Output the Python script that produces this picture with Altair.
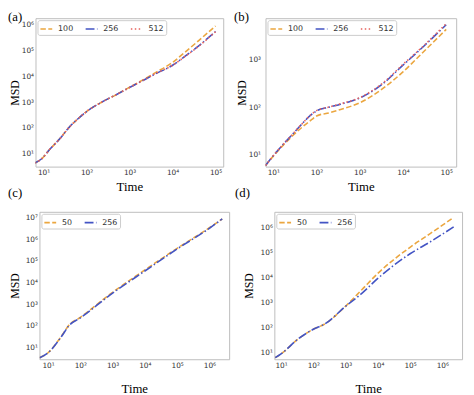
import altair as alt
import pandas as pd

# ---------------- data ----------------
# Panel (a)
a_time = [6.3, 8.9, 14, 25, 40, 71, 112, 224, 500, 1000, 2000, 4000, 10000, 20000, 40000, 100000]
a_msd_100 = [4.4, 6.3, 15, 42, 110, 270, 500, 1000, 2000, 3800, 7200, 14000, 35000, 90000, 240000, 900000]
a_msd_256 = [4.4, 6.3, 15, 42, 110, 270, 500, 1000, 2000, 3700, 6800, 12500, 27000, 62000, 150000, 550000]
a_msd_512 = [4.4, 6.3, 15, 42, 110, 270, 500, 1000, 2000, 3700, 6900, 12800, 27000, 61000, 145000, 540000]

# Panel (b)
b_time = [6.6, 10, 28, 50, 78, 100, 200, 360, 1000, 3500, 10000, 32000, 100000]
b_msd_100 = [5.9, 9.3, 25, 40, 55, 65, 76, 89, 123, 250, 550, 1550, 4300]
b_msd_256 = [5.9, 9.5, 27, 48, 71, 83, 100, 115, 155, 316, 760, 2000, 5400]
b_msd_512 = [5.9, 9.5, 27, 48, 72, 84, 101, 117, 158, 325, 790, 2050, 5700]

# Panel (c)
c_time = [5.5, 10, 27, 43, 100, 1000, 10000, 100000, 1000000, 2500000]
c_msd_50 = [3.3, 5.6, 36, 100, 245, 3500, 38000, 380000, 3400000, 8700000]
c_msd_256 = [3.3, 5.6, 34, 95, 230, 3200, 34000, 355000, 3200000, 8700000]

# Panel (d)
d_time_50 = [6.6, 10, 34, 100, 220, 1000, 3200, 10000, 100000, 400000, 2000000]
d_msd_50 = [6, 8.5, 34, 83, 132, 700, 3200, 14500, 162000, 550000, 2300000]
d_time_256 = [6.6, 10, 34, 100, 220, 1000, 3200, 10000, 100000, 400000, 2500000]
d_msd_256 = [6, 8.5, 34, 83, 132, 690, 2300, 9100, 89000, 257000, 1170000]

# axis ticks and domains
ticks_x_ab = [10, 100, 1000, 10000, 100000]
ticks_x_cd = [10, 100, 1000, 10000, 100000, 1000000]
ticks_y_a = [10, 100, 1000, 10000, 100000, 1000000]
ticks_y_b = [10, 100, 1000]
ticks_y_c = [10, 100, 1000, 10000, 100000, 1000000, 10000000]
ticks_y_d = [10, 100, 1000, 10000, 100000, 1000000]

dom_x_a = [6.5, 151000]
dom_y_a = [3.2, 1.8e6]
dom_x_b = [6.6, 170000]
dom_y_b = [5.6, 7400]
dom_x_c = [5.4, 4.1e6]
dom_y_c = [2.8, 1.86e7]
dom_x_d = [6.2, 4.1e6]
dom_y_d = [5.2, 4.3e6]

ORANGE = "#EBA63F"
BLUE = "#4354C4"
RED = "#E8625C"
DASH_ORANGE = [5.5, 2.5]
DASH_BLUE = [9, 2.5, 1.5, 2.5]
DASH_RED = [1.5, 2.5]

SUP = "['⁰','¹','²','³','⁴','⁵','⁶','⁷'][round(log(datum.value)/LN10)]"
LABEL_EXPR = "'10' + " + SUP


def frame(series):
    rows = []
    for name, (times, vals) in series.items():
        for t, v in zip(times, vals):
            rows.append({"time": t, "msd": v, "series": name})
    return pd.DataFrame(rows)


def panel(df, names, colors, dashes, xdom, ydom, xticks, yticks, w, h,
          label, title_dx, title_offset, y_extent, y_lpad, y_tpad, x_tpad):
    legend = alt.Legend(
        title=None, orient="top-left", direction="horizontal", offset=2,
        padding=2, symbolType="stroke", symbolSize=144, symbolStrokeWidth=1.6,
        labelFont="DejaVu Sans", labelFontSize=8, labelColor="#333333",
        labelOffset=5, columnPadding=8, fillColor="white",
        strokeColor="#cccccc", cornerRadius=2,
    )
    return (
        alt.Chart(df)
        .mark_line(strokeWidth=1.6, clip=True, interpolate="monotone")
        .encode(
            x=alt.X("time:Q", title="Time",
                    scale=alt.Scale(type="log", domain=xdom, nice=False),
                    axis=alt.Axis(values=xticks, labelExpr=LABEL_EXPR,
                                  labelPadding=2, titlePadding=x_tpad)),
            y=alt.Y("msd:Q", title="MSD",
                    scale=alt.Scale(type="log", domain=ydom, nice=False),
                    axis=alt.Axis(values=yticks, labelExpr=LABEL_EXPR,
                                  labelPadding=y_lpad, titlePadding=y_tpad,
                                  titleFontSize=12,
                                  minExtent=y_extent, maxExtent=y_extent)),
            color=alt.Color("series:N", sort=names,
                            scale=alt.Scale(domain=names, range=colors),
                            legend=legend),
            strokeDash=alt.StrokeDash("series:N", sort=names,
                                      scale=alt.Scale(domain=names, range=dashes),
                                      legend=legend),
        )
        .properties(
            width=w, height=h,
            title=alt.TitleParams(label, anchor="start", frame="group",
                                  dx=title_dx, offset=title_offset,
                                  font="Liberation Serif", fontSize=13,
                                  fontWeight="normal", color="black"),
        )
    )


df_a = frame({"100": (a_time, a_msd_100), "256": (a_time, a_msd_256), "512": (a_time, a_msd_512)})
df_b = frame({"100": (b_time, b_msd_100), "256": (b_time, b_msd_256), "512": (b_time, b_msd_512)})
df_c = frame({"50": (c_time, c_msd_50), "256": (c_time, c_msd_256)})
df_d = frame({"50": (d_time_50, d_msd_50), "256": (d_time_256, d_msd_256)})

three = ["100", "256", "512"]
two = ["50", "256"]

pa = panel(df_a, three, [ORANGE, BLUE, RED], [DASH_ORANGE, DASH_BLUE, DASH_RED],
           dom_x_a, dom_y_a, ticks_x_ab, ticks_y_a, 191, 151,
           "(a)", -28, -6, 14, 2, 0, 5)
pb = panel(df_b, three, [ORANGE, BLUE, RED], [DASH_ORANGE, DASH_BLUE, DASH_RED],
           dom_x_b, dom_y_b, ticks_x_ab, ticks_y_b, 194, 151,
           "(b)", -32, -6, 17, 5, 0.5, 5)
pc = panel(df_c, two, [ORANGE, BLUE], [DASH_ORANGE, DASH_BLUE],
           dom_x_c, dom_y_c, ticks_x_cd, ticks_y_c, 193, 150,
           "(c)", -32, 12, 14, 2, 4, 14)
pd_ = panel(df_d, two, [ORANGE, BLUE], [DASH_ORANGE, DASH_BLUE],
            dom_x_d, dom_y_d, ticks_x_cd, ticks_y_d, 191, 150,
            "(d)", -40, 12, 14, 2, 5, 14)

spacer = (
    alt.Chart(pd.DataFrame({"v": [0]}))
    .mark_point(opacity=0)
    .encode(x=alt.value(0), y=alt.value(0))
    .properties(width=1, height=1, view=alt.ViewBackground(stroke="transparent"))
)

res = dict(x="independent", y="independent", color="independent", strokeDash="independent")
leg = dict(color="independent", strokeDash="independent")

row1 = alt.hconcat(pa, pb, spacing=43, bounds="flush").resolve_scale(**res).resolve_legend(**leg)
inner2 = alt.hconcat(pc, pd_, spacing=46, bounds="flush").resolve_scale(**res).resolve_legend(**leg)
row2 = alt.hconcat(spacer, inner2, spacing=3, bounds="flush").resolve_scale(**res).resolve_legend(**leg)

chart = (
    alt.vconcat(row1, row2, spacing=197, bounds="flush")
    .resolve_scale(**res)
    .resolve_legend(**leg)
    .properties(autosize=alt.AutoSizeParams(type="none"),
                padding={"left": 28, "top": 7, "right": 438, "bottom": 380})
    .configure_view(stroke="#bdbdbd", strokeWidth=1)
    .configure_axis(grid=False, domain=False, ticks=False,
                    labelFont="DejaVu Sans", labelFontSize=7.5, labelColor="#333333",
                    titleFont="Liberation Serif", titleFontSize=13,
                    titleFontWeight="normal", titleColor="black")
)

chart.save("out.html", embed_options={"renderer": "svg", "actions": False})
